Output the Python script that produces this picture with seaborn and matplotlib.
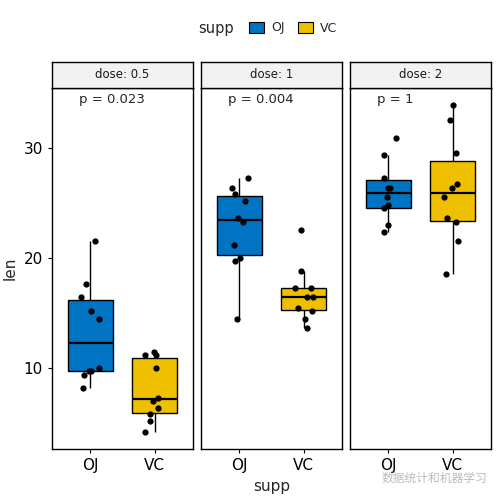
import numpy as np
import pandas as pd
import matplotlib
matplotlib.use("Agg")
import matplotlib.pyplot as plt
from matplotlib.patches import Patch
import seaborn as sns

# ToothGrowth values
doses = ["0.5", "1", "2"]
supps = ["OJ", "VC"]
len_oj = {
    "0.5": [15.2, 21.5, 17.6, 9.7, 14.5, 10.0, 8.2, 9.4, 16.5, 9.7],
    "1": [19.7, 23.3, 23.6, 26.4, 20.0, 25.2, 25.8, 21.2, 14.5, 27.3],
    "2": [25.5, 26.4, 22.4, 24.5, 24.8, 30.9, 26.4, 27.3, 29.4, 23.0],
}
len_vc = {
    "0.5": [4.2, 11.5, 7.3, 5.8, 6.4, 10.0, 11.2, 11.2, 5.2, 7.0],
    "1": [16.5, 16.5, 15.2, 17.3, 22.5, 17.3, 13.6, 14.5, 18.8, 15.5],
    "2": [23.6, 18.5, 33.9, 25.5, 26.4, 32.5, 26.7, 21.5, 23.3, 29.5],
}
p_labels = ["p = 0.023", "p = 0.004", "p = 1"]
palette = {"OJ": "#0073C2", "VC": "#EFC000"}

rows = []
for d in doses:
    for v in len_oj[d]:
        rows.append({"dose": d, "supp": "OJ", "len": v})
    for v in len_vc[d]:
        rows.append({"dose": d, "supp": "VC", "len": v})
df = pd.DataFrame(rows)

sns.set_style("white")
plt.rcParams["font.family"] = ["DejaVu Sans"]
np.random.seed(3)

fig = plt.figure(figsize=(4.99, 5.0), dpi=100)
lefts = [52 / 499, 201 / 499, 350 / 499]
pw = 141 / 499
pb = 51 / 500
ph = 361 / 500
sh = 26 / 500

for i, d in enumerate(doses):
    ax = fig.add_axes([lefts[i], pb, pw, ph])
    sub = df[df["dose"] == d]
    sns.boxplot(data=sub, x="supp", y="len", hue="supp", order=supps,
                palette=palette, saturation=1, width=0.7, showcaps=False,
                fliersize=0, linewidth=1.0, linecolor="black", legend=False,
                ax=ax, medianprops={"linewidth": 1.6, "color": "black"})
    sns.stripplot(data=sub, x="supp", y="len", order=supps, color="black",
                  size=4.5, jitter=0.16, ax=ax)
    ax.set_ylim(2.64, 35.45)
    ax.set_xlim(-0.6, 1.6)
    ax.set_yticks([10, 20, 30])
    ax.tick_params(axis="both", direction="out", length=3, width=0.8,
                   labelsize=11, colors="black", left=True, bottom=True)
    ax.set_xlabel("")
    ax.set_ylabel("")
    for s in ax.spines.values():
        s.set_color("black")
        s.set_linewidth(1.0)
    if i > 0:
        ax.set_yticklabels([])
        ax.tick_params(axis="y", left=False)
    else:
        ax.set_ylabel("len", fontsize=11)
    if i == 1:
        ax.set_xlabel("supp", fontsize=11)
    ax.text(-0.18, 34.4, p_labels[i], fontsize=9.5, ha="left", va="center")

    sax = fig.add_axes([lefts[i], pb + ph, pw, sh])
    sax.set_facecolor("#F2F2F2")
    sax.set_xticks([])
    sax.set_yticks([])
    for s in sax.spines.values():
        s.set_color("black")
        s.set_linewidth(1.0)
    sax.text(0.5, 0.5, f"dose: {d}", ha="center", va="center",
             fontsize=8.5, color="#1A1A1A", transform=sax.transAxes)

fig.text(198 / 499, 1 - 28 / 500, "supp", fontsize=10.5, ha="left", va="center")
handles = [Patch(facecolor=palette[s], edgecolor="black", linewidth=0.8, label=s)
           for s in supps]
fig.legend(handles=handles, ncol=2, loc="center left",
           bbox_to_anchor=(238 / 499, 1 - 28 / 500), frameon=False,
           fontsize=9, handlelength=1.2, handleheight=1.0,
           handletextpad=0.6, columnspacing=1.0)

fig.text(0.765, 0.043, "数据统计和机器学习", fontsize=8.5, color="#BBBBBB",
         family=["Noto Sans CJK SC", "DejaVu Sans"], ha="left", va="center")

fig.savefig("out.png", dpi=100)
